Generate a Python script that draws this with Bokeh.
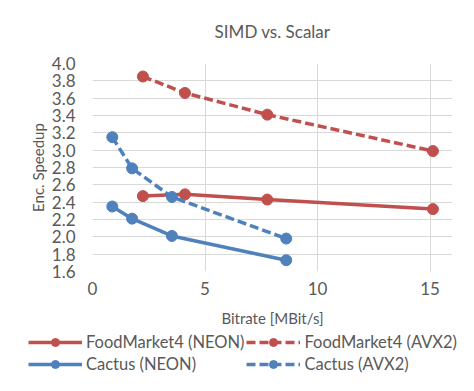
from bokeh.plotting import figure
from bokeh.layouts import column
from bokeh.models import Legend, LegendItem, FixedTicker, Range1d, NumeralTickFormatter
from bokeh.embed import file_html
from bokeh.resources import INLINE

# Data
fm_avx2_x = [2.24, 4.11, 7.77, 15.13]
fm_avx2_y = [3.85, 3.66, 3.41, 2.99]
fm_neon_x = [2.24, 4.11, 7.77, 15.13]
fm_neon_y = [2.47, 2.49, 2.43, 2.32]
ca_avx2_x = [0.88, 1.76, 3.53, 8.61]
ca_avx2_y = [3.15, 2.79, 2.46, 1.98]
ca_neon_x = [0.88, 1.76, 3.53, 8.61]
ca_neon_y = [2.35, 2.21, 2.01, 1.73]
x_ticks = [0, 5, 10, 15]
y_ticks = [1.6, 1.8, 2.0, 2.2, 2.4, 2.6, 2.8, 3.0, 3.2, 3.4, 3.6, 3.8, 4.0]
series_names = ["FoodMarket4 (NEON)", "FoodMarket4 (AVX2)", "Cactus (NEON)", "Cactus (AVX2)"]

RED = "#C0504D"
BLUE = "#4F81BD"
TXT = "#595959"
FONT = "Lato"
LW = 3.5
MS = 11
DASH = "9 4"

p = figure(width=474, height=330, output_backend="svg", toolbar_location=None,
           x_range=Range1d(0, 16), y_range=Range1d(1.6, 4.0),
           min_border_left=92, min_border_right=22, min_border_top=62, min_border_bottom=59,
           title="SIMD vs. Scalar")
p.outline_line_color = None

p.title.align = "center"
p.title.vertical_align = "top"
p.title.text_font = FONT
p.title.text_font_size = "17px"
p.title.text_font_style = "normal"
p.title.text_color = TXT
p.title.standoff = 40

for ax in (p.xaxis[0], p.yaxis[0]):
    ax.major_label_text_font = FONT
    ax.major_label_text_font_size = "17px"
    ax.major_label_text_color = TXT
    ax.axis_label_text_font = FONT
    ax.axis_label_text_font_size = "15px"
    ax.axis_label_text_font_style = "normal"
    ax.axis_label_text_color = TXT
    ax.major_tick_line_color = None
    ax.minor_tick_line_color = None
    ax.axis_line_color = None
    ax.major_tick_out = 0
    ax.major_tick_in = 0

p.xaxis.ticker = FixedTicker(ticks=x_ticks)
p.yaxis.ticker = FixedTicker(ticks=y_ticks)
p.yaxis.formatter = NumeralTickFormatter(format="0.0")
p.xaxis.axis_label = "Bitrate [MBit/s]"
p.yaxis.axis_label = "Enc. Speedup"
p.xaxis.major_label_standoff = 10
p.yaxis.major_label_standoff = 17
p.xaxis.axis_label_standoff = 11
p.yaxis.axis_label_standoff = 2

p.xgrid.grid_line_color = "#D9D9D9"
p.ygrid.grid_line_color = "#D9D9D9"

def series(fig, xs, ys, color, dash):
    l = fig.line(xs, ys, line_color=color, line_width=LW, line_dash=dash)
    s = fig.scatter(xs, ys, marker="circle", size=MS, fill_color=color, line_color=color)
    return [l, s]

series(p, fm_neon_x, fm_neon_y, RED, "solid")
series(p, fm_avx2_x, fm_avx2_y, RED, DASH)
series(p, ca_neon_x, ca_neon_y, BLUE, "solid")
series(p, ca_avx2_x, ca_avx2_y, BLUE, DASH)

# Legend figure (keys only; its ranges show no data)
lf = figure(frame_width=474, frame_height=61, output_backend="svg", toolbar_location=None,
            x_range=Range1d(100, 101), y_range=Range1d(100, 101),
            min_border=0)
lf.outline_line_color = None
lf.axis.visible = False
lf.grid.visible = False
k1 = series(lf, fm_neon_x, fm_neon_y, RED, "solid")
k2 = series(lf, fm_avx2_x, fm_avx2_y, RED, DASH)
k3 = series(lf, ca_neon_x, ca_neon_y, BLUE, "solid")
k4 = series(lf, ca_avx2_x, ca_avx2_y, BLUE, DASH)

legend = Legend(items=[LegendItem(label=n, renderers=r) for n, r in zip(series_names, [k1, k2, k3, k4])],
                ncols=2, orientation="horizontal")
legend.label_text_font = FONT
legend.label_text_font_size = "16.5px"
legend.label_text_color = TXT
legend.glyph_width = 54
legend.glyph_height = 20
legend.label_standoff = 4
legend.label_height = 20
legend.spacing = 2
legend.padding = 0
legend.margin = 0
legend.border_line_color = None
legend.background_fill_alpha = 0
legend.location = (28, 17)
lf.add_layout(legend, "center")

layout = column(p, lf, spacing=0)
open("out.html", "w").write(file_html(layout, INLINE))
